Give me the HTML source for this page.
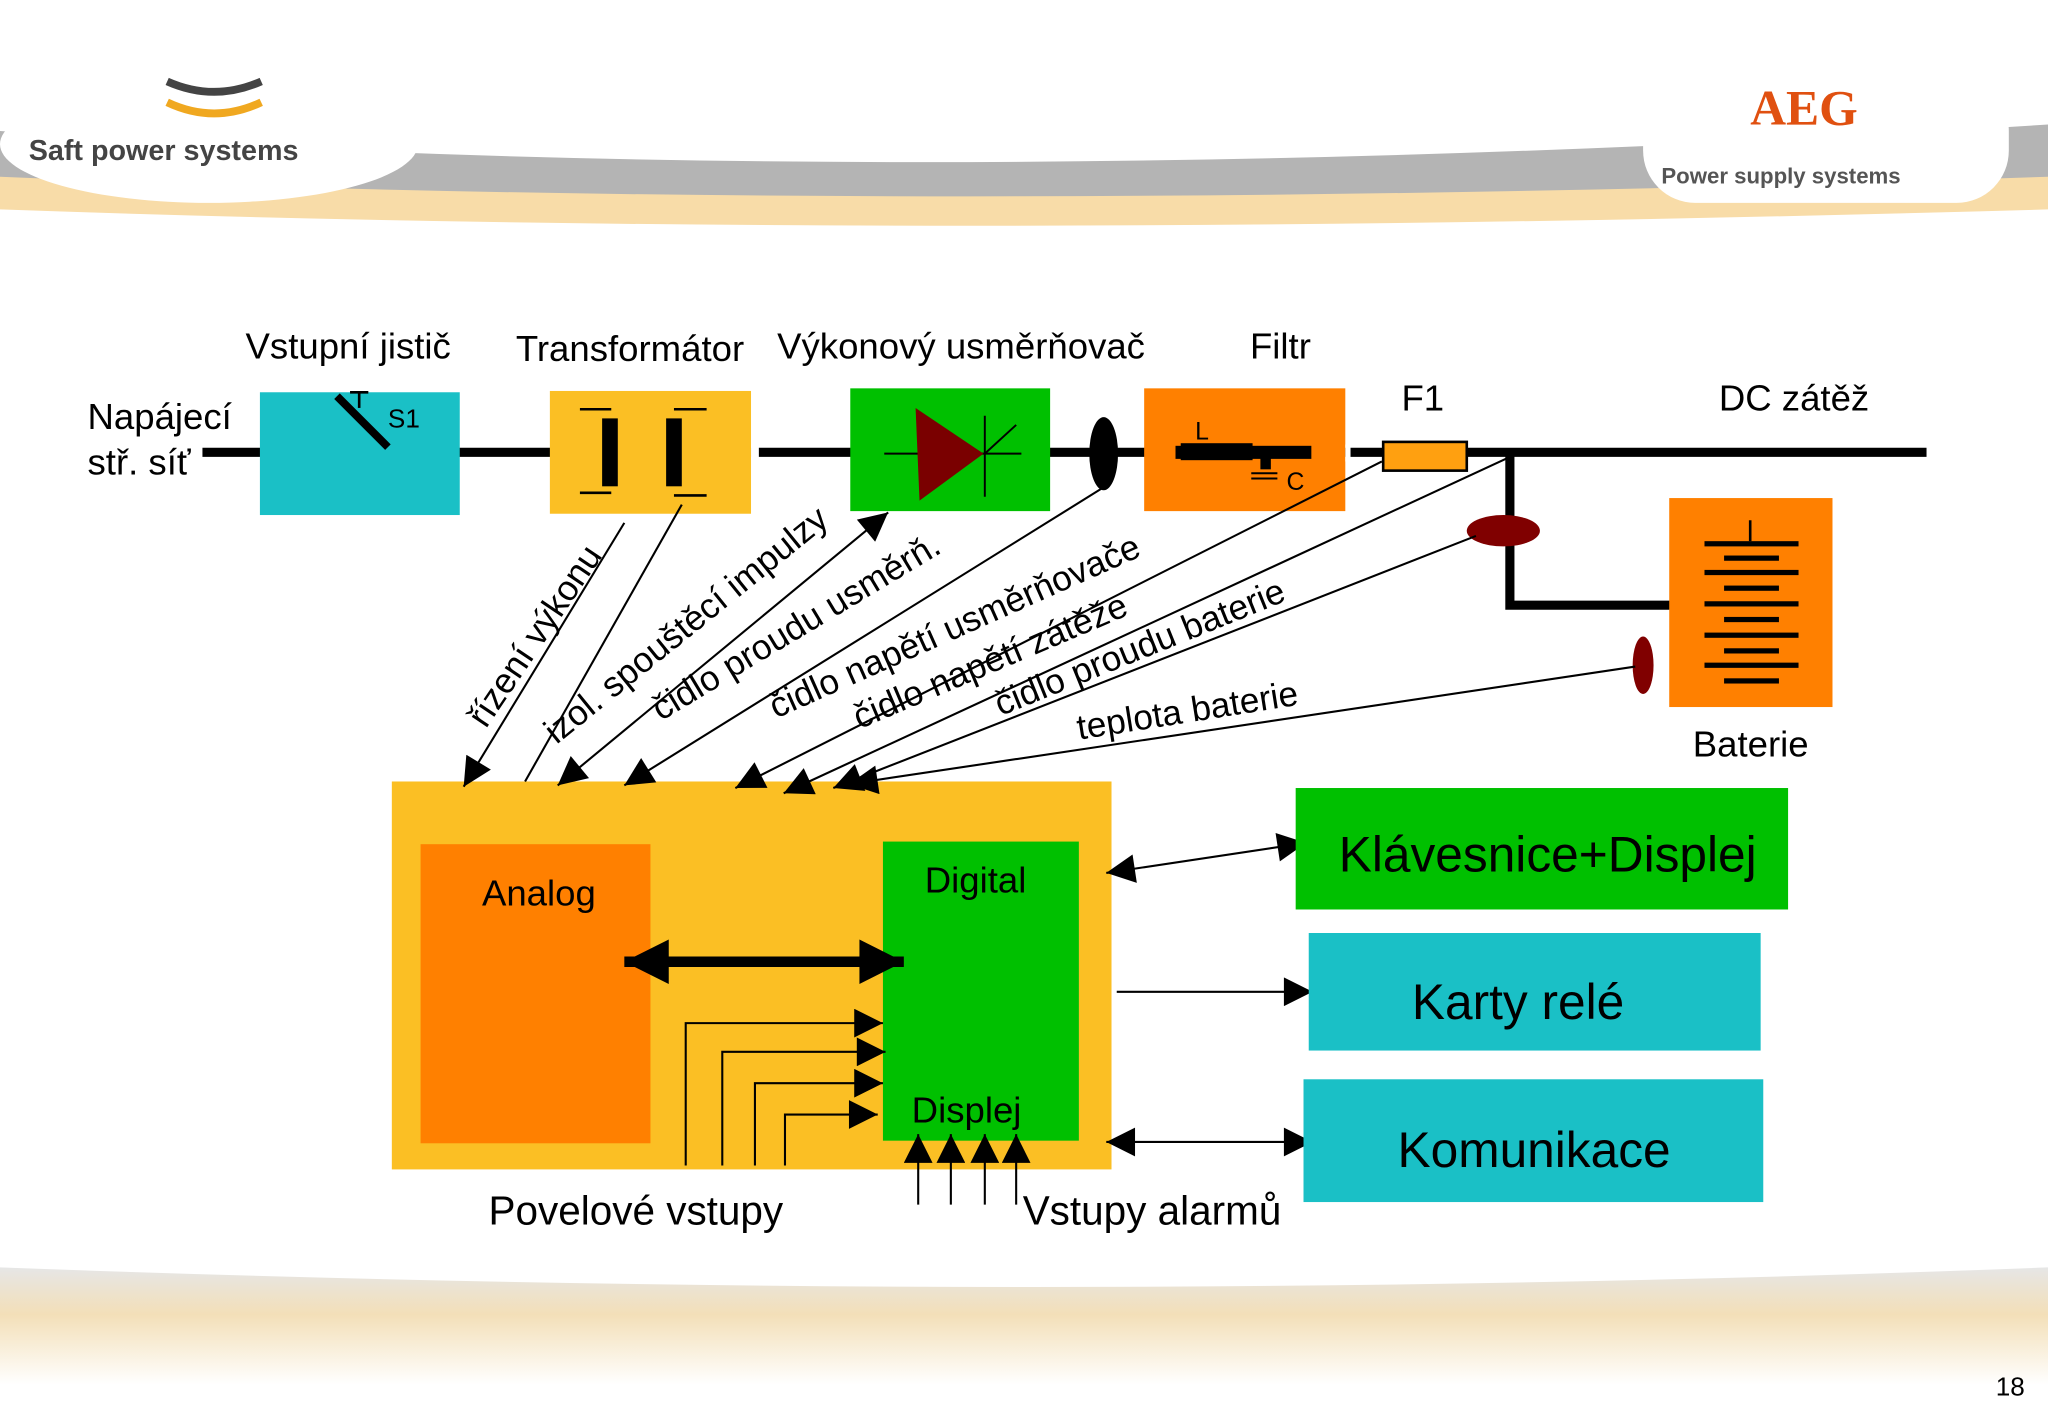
<!DOCTYPE html>
<html><head><meta charset="utf-8"><style>
html,body{margin:0;padding:0;background:#fff;}
svg{display:block;}
text{font-family:"Liberation Sans",sans-serif;fill:#000;}
</style></head><body>
<svg width="2048" height="1418" viewBox="0 0 1568 1085" xmlns="http://www.w3.org/2000/svg">
<defs>
<marker id="b" viewBox="0 0 10 10" refX="10" refY="5" markerWidth="30" markerHeight="22" markerUnits="userSpaceOnUse" orient="auto-start-reverse"><path d="M0,0L10,5L0,10z" fill="#000"/></marker>
<marker id="c" viewBox="0 0 10 10" refX="10" refY="5" markerWidth="45" markerHeight="34" markerUnits="userSpaceOnUse" orient="auto-start-reverse"><path d="M0,0L10,5L0,10z" fill="#000"/></marker>
<linearGradient id="g2" x1="0" y1="0" x2="0" y2="1"><stop offset="0" stop-color="#e6e6e6"/><stop offset="0.4" stop-color="#f3dfb8"/><stop offset="1" stop-color="#fff"/></linearGradient>
</defs>
<!-- header band -->
<path d="M0,100 Q700,150 1568,95 L1568,140 Q700,175 0,140 Z" fill="#b4b4b4"/>
<path d="M0,135 Q700,165 1568,135 L1568,160 Q700,185 0,160 Z" fill="#f8dca8"/>
<ellipse cx="160" cy="110" rx="160" ry="45" fill="#fff"/>
<path d="M128,62 Q164,78 200,62" stroke="#444" stroke-width="6" fill="none"/>
<path d="M128,78 Q164,95 200,78" stroke="#f0a820" stroke-width="6" fill="none"/>
<text x="22" y="122" font-size="22" font-weight="bold" style="fill:#444">Saft power systems</text>
<rect x="1258" y="60" width="280" height="95" rx="40" fill="#fff"/>
<text x="1340" y="95" font-size="38" font-weight="bold" style="fill:#e05010;font-family:'Liberation Serif',serif">AEG</text>
<text x="1272" y="140" font-size="17" font-weight="bold" style="fill:#555">Power supply systems</text>
<!-- bottom band -->
<path d="M0,970 Q800,1000 1568,970 L1568,1060 L0,1060 Z" fill="url(#g2)"/>
<text x="1528" y="1068" font-size="20">18</text>

<!-- main line -->
<line x1="155" y1="346" x2="1475" y2="346" stroke="#000" stroke-width="7"/>
<rect x="199" y="300" width="153" height="94" fill="#1ac0c6"/>
<rect x="245" y="338" width="60" height="16" fill="#1ac0c6"/>
<line x1="258" y1="303" x2="297" y2="342" stroke="#000" stroke-width="6"/>
<line x1="268" y1="300" x2="282" y2="300" stroke="#000" stroke-width="2"/>
<line x1="275" y1="300" x2="275" y2="312" stroke="#000" stroke-width="2"/>
<text x="297" y="327" font-size="20">S1</text>

<rect x="421" y="299" width="154" height="94" fill="#fbbf24"/>
<rect x="461" y="320" width="12" height="52" fill="#000"/>
<rect x="510" y="320" width="12" height="52" fill="#000"/>
<line x1="444" y1="313" x2="468" y2="313" stroke="#000" stroke-width="2"/>
<line x1="444" y1="377" x2="468" y2="377" stroke="#000" stroke-width="2"/>
<line x1="516" y1="313" x2="541" y2="313" stroke="#000" stroke-width="2"/>
<line x1="516" y1="379" x2="541" y2="379" stroke="#000" stroke-width="2"/>

<rect x="575" y="340" width="6" height="12" fill="#fff"/>
<rect x="651" y="297" width="153" height="94" fill="#00c000"/>
<line x1="677" y1="347" x2="782" y2="347" stroke="#000" stroke-width="1.5"/>
<path d="M701,312 L753,347 L704,383 Z" fill="#7a0000"/>
<line x1="754" y1="318" x2="754" y2="380" stroke="#000" stroke-width="1.5"/>
<line x1="754" y1="347" x2="778" y2="325" stroke="#000" stroke-width="1.5"/>
<ellipse cx="845" cy="347" rx="11" ry="28" fill="#000"/>

<rect x="876" y="297" width="154" height="94" fill="#ff8000"/>
<rect x="900" y="341" width="104" height="10" fill="#000"/>
<rect x="904" y="339" width="55" height="13" fill="#000"/>
<rect x="965" y="350" width="8" height="9" fill="#000"/>
<line x1="958" y1="362" x2="978" y2="362" stroke="#000" stroke-width="1.5"/>
<line x1="958" y1="366" x2="978" y2="366" stroke="#000" stroke-width="1.5"/>
<text x="915" y="336" font-size="19">L</text>
<text x="985" y="375" font-size="19">C</text>
<rect x="1030" y="340" width="4" height="13" fill="#fff"/>

<rect x="1059" y="338" width="64" height="22" fill="#ffa010" stroke="#000" stroke-width="2"/>
<polyline points="1156,346 1156,463 1280,463" fill="none" stroke="#000" stroke-width="7"/>
<ellipse cx="1151" cy="406" rx="28" ry="12" fill="#800000"/>
<rect x="1278" y="381" width="125" height="160" fill="#ff8000"/>
<line x1="1340" y1="398" x2="1340" y2="414" stroke="#000" stroke-width="2"/>
<g fill="#000">
<rect x="1305" y="414" width="72" height="4"/><rect x="1320" y="425" width="42" height="4"/>
<rect x="1305" y="436" width="72" height="4"/><rect x="1320" y="448" width="42" height="4"/>
<rect x="1305" y="460" width="72" height="4"/><rect x="1320" y="472" width="42" height="4"/>
<rect x="1305" y="484" width="72" height="4"/><rect x="1320" y="496" width="42" height="4"/>
<rect x="1305" y="507" width="72" height="4"/><rect x="1320" y="519" width="42" height="4"/>
</g>
<ellipse cx="1258" cy="509" rx="8" ry="22" fill="#800000"/>

<!-- top labels -->
<g font-size="28">
<text x="188" y="274">Vstupní jistič</text>
<text x="395" y="276">Transformátor</text>
<text x="595" y="274">Výkonový usměrňovač</text>
<text x="957" y="274">Filtr</text>
<text x="1073" y="314">F1</text>
<text x="1316" y="314">DC zátěž</text>
<text x="67" y="328">Napájecí</text>
<text x="67" y="363">stř. síť</text>
<text x="1296" y="579">Baterie</text>
</g>

<!-- control box -->
<rect x="300" y="598" width="551" height="297" fill="#fbbf24"/>
<rect x="322" y="646" width="176" height="229" fill="#ff8000"/>
<rect x="676" y="644" width="150" height="229" fill="#00c000"/>
<text x="369" y="693" font-size="28">Analog</text>
<text x="708" y="683" font-size="28">Digital</text>
<text x="698" y="859" font-size="28">Displej</text>
<line x1="478" y1="736" x2="692" y2="736" stroke="#000" stroke-width="8" marker-start="url(#c)" marker-end="url(#c)"/>

<!-- sensor lines -->
<g stroke="#000" stroke-width="1.6" fill="none">
<line x1="478" y1="400" x2="355" y2="602" marker-end="url(#b)"/>
<line x1="522" y1="386" x2="402" y2="598"/>
<line x1="427" y1="601" x2="680" y2="392" marker-start="url(#b)" marker-end="url(#b)"/>
<line x1="843" y1="374" x2="478" y2="601" marker-end="url(#b)"/>
<line x1="1058" y1="353" x2="563" y2="603" marker-end="url(#b)"/>
<line x1="1155" y1="350" x2="600" y2="607" marker-end="url(#b)"/>
<line x1="1130" y1="410" x2="638" y2="603" marker-end="url(#b)"/>
<line x1="1252" y1="510" x2="650" y2="600" marker-end="url(#b)"/>
<!-- right arrows -->
<line x1="847" y1="668" x2="1000" y2="645" marker-start="url(#b)" marker-end="url(#b)"/>
<line x1="855" y1="759" x2="1005" y2="759" marker-end="url(#b)"/>
<line x1="847" y1="874" x2="1005" y2="874" marker-start="url(#b)" marker-end="url(#b)"/>
<!-- command inputs -->
<polyline points="525,892 525,783 676,783" marker-end="url(#b)"/>
<polyline points="553,892 553,805 678,805" marker-end="url(#b)"/>
<polyline points="578,892 578,829 676,829" marker-end="url(#b)"/>
<polyline points="601,892 601,853 672,853" marker-end="url(#b)"/>
<!-- alarm inputs -->
<line x1="703" y1="922" x2="703" y2="868" marker-end="url(#b)"/>
<line x1="728" y1="922" x2="728" y2="868" marker-end="url(#b)"/>
<line x1="754" y1="922" x2="754" y2="868" marker-end="url(#b)"/>
<line x1="778" y1="922" x2="778" y2="868" marker-end="url(#b)"/>
</g>

<!-- rotated labels -->
<g font-size="27">
<text transform="translate(372,558) rotate(-56)">řízení výkonu</text>
<text transform="translate(426,570) rotate(-39)">izol. spouštěcí impulzy</text>
<text transform="translate(506,552) rotate(-31)">čidlo proudu usměrň.</text>
<text transform="translate(594,550) rotate(-24)">čidlo napětí usměrňovače</text>
<text transform="translate(658,558) rotate(-23)">čidlo napětí zátěže</text>
<text transform="translate(766,548) rotate(-22)">čidlo proudu baterie</text>
<text transform="translate(826,566) rotate(-9)">teplota baterie</text>
</g>

<!-- right boxes -->
<rect x="992" y="603" width="377" height="93" fill="#00c000"/>
<rect x="1002" y="714" width="346" height="90" fill="#1ac0c6"/>
<rect x="998" y="826" width="352" height="94" fill="#1ac0c6"/>
<g font-size="38">
<text x="1025" y="667">Klávesnice+Displej</text>
<text x="1081" y="780">Karty relé</text>
<text x="1070" y="893">Komunikace</text>
</g>
<g font-size="31">
<text x="374" y="937">Povelové vstupy</text>
<text x="783" y="937">Vstupy alarmů</text>
</g>
</svg>
</body></html>
